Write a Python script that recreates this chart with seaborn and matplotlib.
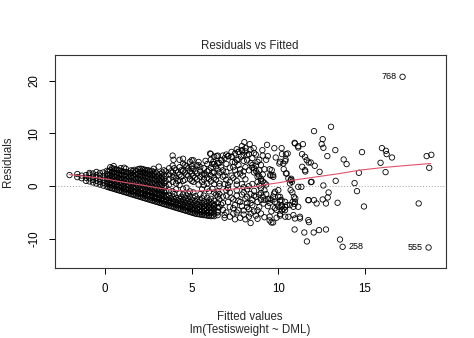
import matplotlib
matplotlib.use("Agg")
import matplotlib.pyplot as plt
import seaborn as sns
import pandas as pd

# ---------------- data ----------------
# dense left part: columns of fitted values with their residuals
left_fit = [-2.05, -1.6, -1.35, -1.1, -0.9, -0.7, -0.5, -0.3, -0.1, 0.1, 0.3, 0.5,
            0.7, 0.9, 1.1, 1.3, 1.5, 1.7, 1.9, 2.1, 2.3, 2.5, 2.7, 2.9, 3.1, 3.3,
            3.5, 3.7, 3.9, 4.1, 4.3, 4.5, 4.7, 4.9, 5.1, 5.3, 5.5, 5.7, 5.9, 6.1,
            6.3, 6.5]
left_res = [
    [2.1],
    [2.3, 1.7],
    [1.5, 2.0],
    [1.0, 1.6, 2.1],
    [0.9, 1.5, 2.2, 2.5],
    [0.7, 1.2, 1.8, 2.4],
    [0.5, 1.0, 1.6, 2.1, 2.7],
    [0.3, 0.8, 1.4, 2.0, 2.5],
    [0.1, 0.6, 1.2, 1.9, 2.6],
    [-0.1, 0.4, 1.0, 1.6, 2.3, 2.9],
    [-0.3, 0.2, 0.8, 1.5, 2.2, 3.0, 3.6],
    [-0.5, 0.0, 0.7, 1.3, 2.0, 2.7, 3.3, 3.8],
    [-0.7, -0.2, 0.4, 1.1, 1.8, 2.5, 3.1],
    [-0.9, -0.4, 0.2, 0.9, 1.6, 2.3, 2.9, 3.4],
    [-1.1, -0.6, 0.0, 0.7, 1.4, 2.1, 2.7, 3.5],
    [-1.3, -0.8, -0.2, 0.5, 1.3, 2.0, 2.6],
    [-1.5, -1.0, -0.4, 0.3, 1.0, 1.8, 2.5, 3.0],
    [-1.7, -1.2, -0.6, 0.1, 0.9, 1.7, 2.4, 3.1],
    [-1.9, -1.4, -0.8, -0.1, 0.7, 1.5, 2.3, 3.2],
    [-2.1, -1.6, -1.0, -0.3, 0.5, 1.3, 2.1, 2.8, 3.3],
    [-2.3, -1.8, -1.2, -0.5, 0.3, 1.1, 1.9, 2.6, 3.1],
    [-2.5, -2.0, -1.4, -0.7, 0.1, 0.9, 1.7, 2.4, 3.0],
    [-2.7, -2.2, -1.6, -0.9, -0.1, 0.7, 1.5, 2.2, 2.9],
    [-2.9, -2.4, -1.8, -1.1, -0.3, 0.5, 1.3, 2.0, 2.7],
    [-3.1, -2.6, -2.0, -1.3, -0.5, 0.4, 1.2, 2.0, 3.7],
    [-3.3, -2.8, -2.2, -1.5, -0.7, 0.2, 1.0, 1.8, 2.6],
    [-3.5, -3.0, -2.4, -1.7, -0.9, 0.0, 0.9, 1.9, 2.8],
    [-3.7, -3.2, -2.6, -1.8, -0.8, 0.3, 1.3, 2.2],
    [-3.9, -3.4, -2.8, -2.0, -1.0, 0.8, 1.7, 2.6, 3.9, 5.8],
    [-4.1, -3.6, -3.0, -2.2, -0.6, 0.5, 1.5, 3.0],
    [-4.3, -3.8, -3.2, -2.4, -1.4, 0.2, 1.1, 2.2, 3.6],
    [-4.5, -4.0, -3.4, -2.6, -1.6, -0.5, 1.0, 2.9, 4.3],
    [-4.7, -4.2, -3.6, -2.8, -1.8, -0.3, 2.2, 3.8],
    [-4.9, -4.4, -3.8, -3.0, -2.0, -1.0, 1.3, 2.8, 4.6],
    [-5.1, -4.6, -4.0, -3.2, -2.2, -1.2, 0.8, 2.0, 3.3, 4.9],
    [-5.3, -4.8, -4.2, -3.4, -2.5, 1.3, 2.4, 3.9],
    [-5.4, -4.9, -4.3, -3.6, -2.7, -1.5, 1.8, 2.8],
    [-5.5, -5.0, -4.4, -3.7, -2.9, -1.8, 0.2, 1.3, 2.3, 3.4],
    [-5.6, -5.1, -4.5, -3.8, -3.0, -2.2, -0.5, 1.6, 2.8, 4.2],
    [-5.7, -5.1, -4.6, -3.9, -3.1, -2.4, 0.9, 2.0, 3.5, 5.0, 6.1],
    [-5.7, -5.2, -4.4, -3.6, -2.8, -1.2, 1.6, 2.6, 4.2, 5.6],
    [-5.5, -4.8, -4.0, -3.2, -2.0, 2.0, 3.2, 4.4],
]

# interleaved columns that darken the dense band
fill_fit = [0.2, 0.4, 0.6, 0.8, 1.0, 1.2, 1.4, 1.6, 1.8, 2.0, 2.2, 2.4, 2.6, 2.8,
            3.0, 3.2, 3.4, 3.6, 3.8, 4.0, 4.2, 4.4, 4.6, 4.8, 5.0, 5.2, 5.4, 5.6,
            5.8, 6.0, 6.2]
fill_res = [
    [-0.2, 0.5, 1.3, 2.1, 2.8],
    [-0.4, 0.3, 1.1, 1.9, 2.6, 3.4],
    [-0.6, 0.1, 0.9, 1.7, 2.4, 3.2],
    [-0.8, -0.1, 0.7, 1.5, 2.2, 3.0],
    [-1.0, -0.3, 0.5, 1.3, 2.0, 2.8],
    [-1.2, -0.5, 0.3, 1.1, 1.9, 2.7, 3.3],
    [-1.4, -0.7, 0.1, 0.9, 1.7, 2.4],
    [-1.6, -0.9, -0.1, 0.7, 1.5, 2.2, 2.9],
    [-1.8, -1.1, -0.3, 0.5, 1.3, 2.1, 2.8],
    [-2.0, -1.3, -0.5, 0.3, 1.1, 1.9, 2.7, 3.3],
    [-2.2, -1.5, -0.7, 0.1, 0.9, 1.7, 2.5, 3.2],
    [-2.4, -1.7, -0.9, -0.1, 0.7, 1.5, 2.3, 3.0],
    [-2.6, -1.9, -1.1, -0.3, 0.5, 1.3, 2.1, 2.8],
    [-2.8, -2.1, -1.3, -0.5, 0.3, 1.1, 1.9, 2.6, 3.3],
    [-3.0, -2.3, -1.5, -0.7, 0.1, 0.9, 1.7, 2.4],
    [-3.2, -2.5, -1.7, -0.9, -0.1, 0.7, 1.5, 2.3],
    [-3.4, -2.7, -1.9, -1.1, -0.3, 0.6, 1.4, 2.2, 3.0],
    [-3.6, -2.9, -2.1],
    [-3.8, -3.1, -2.3],
    [-4.0, -3.3, -2.5, -1.5],
    [-4.2, -3.5, -2.7],
    [-4.4, -3.7, -2.9, -2.0],
    [-4.6, -3.9, -3.1, -2.2],
    [-4.8, -4.1, -3.3, -2.4, -1.4],
    [-5.0, -4.3, -3.5, -2.6],
    [-5.2, -4.5, -3.7, -2.8, -1.9],
    [-5.3, -4.6, -3.9, -3.0],
    [-5.4, -4.7, -4.0, -3.2, -2.3],
    [-5.5, -4.8, -4.1, -3.4],
    [-5.6, -4.9, -4.2, -3.5, -2.7],
    [-5.6, -4.9, -4.1, -3.3],
]

# middle cloud (fitted 5 - 10.5)
mid_fit = [6.06, 6.44, 6.73, 6.25, 5.0, 5.39, 5.0,
           6.7, 6.9, 7.0, 7.1, 7.2, 7.3, 7.35, 7.5, 7.5, 7.6, 7.7, 7.7, 7.8, 7.85,
           7.9, 8.0, 8.04, 8.1, 8.2, 8.3, 8.35, 8.4, 8.5, 8.58, 8.6, 8.7, 8.8, 8.9,
           9.0, 9.08, 9.1, 9.2, 9.35, 9.39, 9.3, 9.5, 9.6, 9.7, 9.77, 9.85,
           6.6, 6.8, 7.0, 6.9, 7.2, 7.4, 7.6, 7.9, 8.1, 8.3,
           8.5, 8.6, 8.7, 8.8, 8.9, 9.0, 9.1,
           6.7, 7.0, 7.3, 7.5, 7.8, 7.95, 8.1, 8.2, 8.5, 8.7, 8.9, 8.0, 7.7,
           7.12, 7.31, 7.7, 7.92,
           6.5, 6.6, 6.7, 6.8, 6.9, 6.9, 7.0, 7.1, 7.2, 7.2, 7.3, 7.4, 7.5, 7.5,
           7.6, 7.7, 7.7, 7.8, 7.9, 7.9, 8.0, 8.1, 8.1, 8.2, 8.2, 8.3, 8.3, 8.4,
           8.4, 8.5, 8.5, 8.6, 8.6, 8.7, 8.7, 8.8, 8.8, 8.9, 8.9, 9.0, 9.0,
           6.6, 7.1, 7.6, 8.0, 8.5, 8.9,
           9.0, 9.1, 9.2, 9.15, 9.3, 9.4, 9.5, 9.6, 9.5, 9.7, 9.8, 9.9, 10.0, 10.1,
           9.9, 9.75, 9.4, 9.5, 9.6, 9.7, 9.8, 9.9, 10.0, 10.1, 10.2, 10.3, 10.4,
           10.5, 9.2, 9.5, 9.6, 10.2, 10.4, 10.1]
mid_res = [6.2, 5.69, 4.93, 4.62, 4.93, 3.98, 3.35,
           4.9, 5.3, 4.2, 5.7, 3.5, 5.6, 4.6, 6.2, 3.0, 5.0, 6.5, 4.0, 2.4, 5.6,
           6.8, 4.8, 8.35, 3.6, 5.9, 6.1, 7.97, 4.4, 3.5, 7.2, 2.6, 3.9, 1.8, 3.0,
           1.0, 6.83, 2.2, 0.6, 7.84, 5.69, 0.3, 3.2, 2.0, 2.1, 7.2, 5.44,
           2.6, 1.8, 1.2, 0.4, 0.8, 1.6, 1.0, 0.4, 1.3, 0.0,
           4.0, 3.4, 2.9, 2.4, 1.9, 1.4, 0.9,
           3.6, 2.7, 2.0, 4.5, 3.2, 2.0, 6.6, 4.9, 5.3, 6.0, 5.0, 5.9, 5.1,
           5.69, 5.56, 6.5, 6.83,
           -1.0, -2.5, -3.5, -4.5, -5.5, -6.0, -1.8, -3.0, -4.0, -5.8, -2.2, -5.2,
           -6.3, -3.6, -0.8, -2.8, -4.6, -6.0, -1.6, -3.8, -5.4, -2.4, -6.3, -0.6,
           -3.2, -4.4, -5.8, -1.5, -7.0, -2.6, -3.6, -4.8, -0.9, -2.0, -5.6, -3.0,
           -6.2, -1.6, -4.0, -2.6, -5.2,
           0.5, -0.4, 0.3, -0.2, 0.4, 0.1,
           -1.3, -2.0, -2.6, -3.3, -1.5, -3.8, -2.4, -4.8, -5.8, -6.9, -4.2, -3.3,
           -2.0, -5.3, -6.0, -1.4, -2.5, -3.2, -2.6, -2.0, -3.0, -4.5, -3.9, -2.7,
           -3.7, -4.3, -3.9, -3.6, -5.9, -6.5, -6.9, -4.6, -5.8, -5.6]

# extra points filling the middle cloud
extra_fit = [3.7, 3.8, 4.0, 4.0, 4.2, 4.2, 4.4, 4.4, 4.6, 4.6, 4.6, 4.8, 4.8, 5.0,
             5.0, 5.0, 5.2, 5.2, 4.3, 4.5, 3.95,
             5.4, 5.5, 5.6, 5.6, 5.8, 5.8, 6.0, 6.0, 6.2, 6.2, 6.4, 6.4, 6.5, 6.6,
             6.6, 6.8, 6.8, 6.9, 7.0, 7.1, 6.3, 5.4, 5.9,
             5.6, 6.0, 6.2, 6.4, 6.6, 6.8, 7.0, 7.2, 7.4, 7.6, 7.8, 8.0, 8.2, 8.4,
             8.6, 8.2, 7.4, 6.6, 6.8, 7.0, 7.6, 8.0, 8.4, 8.8, 6.5, 6.3,
             7.3, 7.6, 7.9, 8.1, 8.4, 8.6, 8.8, 9.0, 9.2, 9.3, 9.1, 8.3, 8.0, 7.6,
             7.4, 8.8, 9.0, 9.2]
extra_res = [3.4, 2.8, 3.4, 2.0, 2.6, 1.0, 3.0, 1.8, 2.6, 1.2, 4.0, 3.4, 2.0, 2.4,
             1.0, 3.8, 2.8, 1.6, 5.0, 5.2, 5.0,
             4.6, 3.6, 2.2, 0.8, 4.8, 2.2, 3.0, 1.4, 4.2, 2.6, 3.8, 1.2, 5.8, 4.4,
             0.0, 3.0, 5.8, 2.0, 6.0, 0.2, 0.4, 0.3, 0.5,
             -0.6, -1.0, -0.5, -1.6, -1.5, -2.0, -0.8, -1.2, -2.5, -1.8, -3.0, -1.2,
             -2.0, -3.2, -1.8, -4.0, -4.2, -4.0, -3.2, -5.0, -5.0, -4.6, -5.2, -4.6,
             -5.0, -3.8,
             6.5, 7.0, 7.6, 7.2, 6.9, 6.3, 4.6, 4.0, 3.2, 5.0, 5.8, 3.0, 2.8, 2.2,
             3.6, 0.8, -0.4, -0.8]

# sparse right part
right_fit = [10.19, 10.21, 10.44, 10.06, 10.4, 10.31, 10.44, 10.71, 10.79, 10.58,
             10.67, 10.94, 11.15, 11.42, 11.37, 11.54, 11.64, 11.75, 11.87, 11.38,
             11.54, 11.56, 12.1, 12.38, 11.88, 12.06, 13.04, 12.56, 12.5, 12.6,
             13.29, 12.83, 13.77, 13.94, 14.83, 15.98, 16.21, 16.25, 16.56, 15.9,
             16.19, 14.65, 18.56, 18.83, 18.71, 18.1, 14.4, 14.54, 14.94, 13.31,
             12.6, 12.9, 12.85, 12.56, 12.75, 13.42, 11.75, 12.06, 12.21, 11.77,
             11.5, 12.04, 12.35, 12.75, 11.65, 13.56, 13.71, 18.67, 17.17, 10.94,
             11.25, 10.87, 11.33, 10.71, 10.81, 10.9, 10.98, 10.83, 10.94, 10.87,
             11.15, 10.1, 10.19, 10.39, 10.67, 10.96, 11.15, 10.39, 10.58, 10.96,
             11.25, 10.19, 10.0, 9.81, 9.62, 9.52, 9.71, 10.48, 10.73, 10.29,
             10.1, 10.54, 10.42, 10.96, 11.15, 10.75, 11.92, 11.73, 11.73]
right_res = [7.22, 6.08, 6.08, 4.3, 4.75, 3.23, 2.41, 1.14, 0.82, 1.46,
             0.51, 8.23, 7.34, 7.97, 6.08, 5.56, 4.93, 4.49, 4.49, 3.67,
             3.04, 2.78, 3.86, 2.72, 0.76, 10.44, 11.27, 8.92, 7.97, 7.28,
             6.84, 5.70, 5.06, 4.18, 6.46, 7.22, 6.71, 6.08, 5.44, 4.43,
             2.66, 2.53, 5.70, 5.95, 3.48, -3.29, 0.57, -0.95, -3.86, 1.01,
             0.13, -1.2, -2.15, -2.53, -3.29, -3.16, -2.66, -2.66, -3.29, -6.84,
             -8.8, -8.8, -8.35, -8.23, -10.5, -10.13, -11.52, -11.65, 20.76, -8.23,
             -6.14, -5.5, -0.13, -0.76, -1.2, -2.03, -2.34, -2.97, -3.35, -3.92,
             -0.13, -2.03, -2.66, -2.98, -3.6, -2.98, -3.92, -4.55, -5.82, -6.14,
             -5.82, -3.92, -0.76, -1.08, 3.04, 2.09, 1.77, 2.41, 1.14, 4.3,
             4.62, 6.2, 5.07, 8.1, 7.6, 1.4, 0.82, -2.66, -6.45]

# red smoother
smooth_fit = [-2.06, -1.0, 0.0, 1.06, 2.02, 3.17, 4.13, 5.0, 6.06, 7.4, 8.56,
              9.33, 10.0, 10.87, 12.21, 13.56, 14.71, 16.06, 17.4, 18.79]
smooth_res = [2.2, 1.8, 1.39, 0.75, 0.25, -0.4, -0.85, -0.95, -0.8, -0.57, -0.13,
              0.32, 0.63, 1.14, 1.77, 2.4, 3.04, 3.54, 3.92, 4.3]

# labelled observations
label_fit = [17.17, 13.71, 18.67]
label_res = [20.76, -11.52, -11.65]
label_text = ["768", "258", "555"]
label_side = ["left", "right", "left"]

# ---------------- build table ----------------
xs, ys = [], []
for f, rs in zip(left_fit, left_res):
    for r in rs:
        xs.append(f); ys.append(r)
for f, rs in zip(fill_fit, fill_res):
    for r in rs:
        xs.append(f); ys.append(r)
xs += mid_fit + extra_fit + right_fit
ys += mid_res + extra_res + right_res
df = pd.DataFrame({"fitted": xs, "resid": ys})
sm = pd.DataFrame({"fitted": smooth_fit, "resid": smooth_res})

# ---------------- plot ----------------
sns.set_style("white")
plt.rcParams["font.family"] = ["Liberation Sans", "DejaVu Sans"]

fig = plt.figure(figsize=(4.74, 3.38), dpi=100)
ax = fig.add_axes([0.1167, 0.2062, 0.8236, 0.6311])

ax.axhline(0, color="#9e9e9e", linestyle=(0, (1, 2)), linewidth=0.7, zorder=1)
sns.scatterplot(data=df, x="fitted", y="resid", ax=ax, marker="o",
                facecolors="none", edgecolor="black", s=15, linewidth=0.6,
                zorder=2, legend=False)
sns.lineplot(data=sm, x="fitted", y="resid", ax=ax, color="#DF536B",
             linewidth=0.8, sort=False, estimator=None, zorder=3)

for fx, ry, t, side in zip(label_fit, label_res, label_text, label_side):
    off = -0.35 if side == "left" else 0.35
    ax.text(fx + off, ry, t, ha="right" if side == "left" else "left",
            va="center", fontsize=6.5, color="black")

ax.set_xlim(-2.87, 19.66)
ax.set_ylim(-15.6, 24.9)
ax.set_xticks([0, 5, 10, 15])
ax.set_yticks([-10, 0, 10, 20])
ax.set_xticklabels(["0", "5", "10", "15"])
ax.set_yticklabels(["-10", "0", "10", "20"], rotation=90, va="center")
ax.tick_params(axis="both", direction="out", length=4.3, width=0.7,
               color="black", labelsize=8.3, labelcolor="black", pad=6.5,
               bottom=True, left=True)
for sp in ax.spines.values():
    sp.set_color("#333333")
    sp.set_linewidth(0.8)
ax.set_xlabel("")
ax.set_ylabel("")

fig.text(0.5274, 0.8648, "Residuals vs Fitted", ha="center", va="center", fontsize=8.3)
fig.text(0.5274, 0.063, "Fitted values", ha="center", va="center", fontsize=8.3)
fig.text(0.5274, 0.0237, "lm(Testisweight ~ DML)", ha="center", va="center", fontsize=8.3)
fig.text(8.3 / 474, 0.5216, "Residuals", ha="center", va="center", rotation=90, fontsize=8.3)

fig.savefig("out.png", dpi=100, facecolor="white")
